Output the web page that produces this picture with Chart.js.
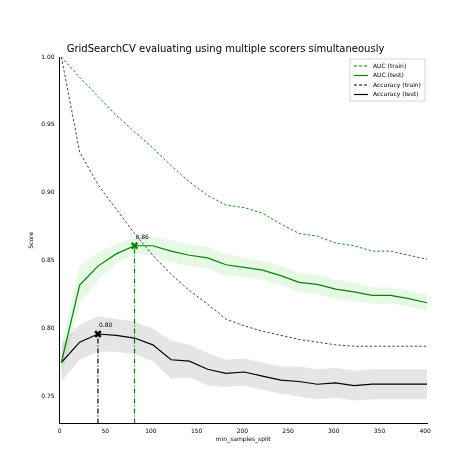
<!DOCTYPE html>
<html><head><meta charset="utf-8">
<script src="https://cdn.jsdelivr.net/npm/chart.js@4/dist/chart.umd.min.js"></script>
<style>html,body{margin:0;background:#fff}#c{display:block}</style></head>
<body><canvas id="c" width="474" height="474"></canvas>
<script>
const xVals=[2,22,42,62,82,102,122,142,162,182,202,222,242,262,282,302,322,342,362,382,402];
const aucTrain=[1.0,0.985,0.971,0.957,0.945,0.933,0.920,0.908,0.898,0.891,0.889,0.885,0.877,0.870,0.868,0.863,0.861,0.857,0.857,0.854,0.851];
const aucTest=[0.775,0.832,0.846,0.855,0.861,0.861,0.857,0.854,0.852,0.847,0.845,0.843,0.839,0.834,0.8325,0.829,0.827,0.8245,0.8245,0.822,0.819];
const aucTestStd=[0.012,0.014,0.010,0.007,0.006,0.007,0.008,0.008,0.008,0.008,0.007,0.007,0.007,0.007,0.007,0.007,0.007,0.006,0.006,0.006,0.006];
const accTrain=[1.0,0.930,0.906,0.888,0.870,0.854,0.840,0.828,0.818,0.807,0.802,0.798,0.795,0.792,0.790,0.788,0.787,0.787,0.787,0.787,0.787];
const accTest=[0.775,0.790,0.796,0.795,0.793,0.788,0.777,0.776,0.770,0.767,0.768,0.765,0.762,0.761,0.759,0.760,0.758,0.759,0.759,0.759,0.759];
const accTestStd=[0.014,0.013,0.013,0.012,0.012,0.012,0.014,0.012,0.012,0.010,0.010,0.010,0.010,0.011,0.011,0.011,0.011,0.011,0.011,0.011,0.011];
const yTicks=[0.75,0.80,0.85,0.90,0.95,1.00];
const bestAuc={x:82,y:0.861,label:'0.86'};
const bestAcc={x:42,y:0.796,label:'0.80'};
const legendItems=[['AUC (train)','green',[3,2]],['AUC (test)','green',[]],['Accuracy (train)','black',[3,2]],['Accuracy (test)','black',[]]];

const pts=(ys)=>xVals.map((x,i)=>({x,y:ys[i]}));
const band=(m,s,sign)=>xVals.map((x,i)=>({x,y:m[i]+sign*s[i]}));
const G='rgb(0,128,0)';
const ds=[
 {data:band(aucTest,aucTestStd,-1),borderWidth:0,pointRadius:0,fill:false},
 {data:band(aucTest,aucTestStd,1),borderWidth:0,pointRadius:0,fill:'-1',backgroundColor:'rgba(0,200,0,0.1)'},
 {data:band(accTest,accTestStd,-1),borderWidth:0,pointRadius:0,fill:false},
 {data:band(accTest,accTestStd,1),borderWidth:0,pointRadius:0,fill:'-1',backgroundColor:'rgba(0,0,0,0.1)'},
 {data:pts(aucTrain),borderColor:G,borderDash:[2.5,2],borderWidth:0.9,pointRadius:0},
 {data:pts(aucTest),borderColor:G,borderWidth:1.2,pointRadius:0},
 {data:pts(accTrain),borderColor:'#333',borderDash:[2.5,2],borderWidth:0.9,pointRadius:0},
 {data:pts(accTest),borderColor:'black',borderWidth:1.2,pointRadius:0},
 {data:[{x:bestAuc.x,y:0.73},{x:bestAuc.x,y:bestAuc.y}],borderColor:G,borderDash:[5,2,1,2],borderWidth:1.2,pointRadius:[0,4],pointStyle:'crossRot',pointBorderColor:G,pointBorderWidth:[0,2.5]},
 {data:[{x:bestAcc.x,y:0.73},{x:bestAcc.x,y:bestAcc.y}],borderColor:'black',borderDash:[5,2,1,2],borderWidth:1.2,pointRadius:[0,4],pointStyle:'crossRot',pointBorderColor:'black',pointBorderWidth:[0,2.5]}
];
const extras={id:'extras',afterDraw(c){
 const ctx=c.ctx,x=c.scales.x,y=c.scales.y,a=c.chartArea;
 ctx.save();ctx.font='6px "DejaVu Sans"';ctx.fillStyle='#000';ctx.textBaseline='alphabetic';
 for(const b of [bestAuc,bestAcc]){ctx.fillText(b.label,x.getPixelForValue(b.x)+1,y.getPixelForValue(b.y)-7);}
 const lw=75,lh=42,lx=a.right-lw-2,ly=a.top+2;
 ctx.fillStyle='rgba(255,255,255,0.8)';ctx.strokeStyle='#ccc';ctx.lineWidth=0.8;
 ctx.fillRect(lx,ly,lw,lh);ctx.strokeRect(lx,ly,lw,lh);
 legendItems.forEach((it,i)=>{const yy=ly+7+i*9.5;ctx.strokeStyle=it[1];ctx.lineWidth=1.2;ctx.setLineDash(it[2]);
  ctx.beginPath();ctx.moveTo(lx+4,yy);ctx.lineTo(lx+18,yy);ctx.stroke();ctx.setLineDash([]);
  ctx.fillStyle='#000';ctx.textBaseline='middle';ctx.fillText(it[0],lx+23,yy);});
 ctx.restore();}};
new Chart(document.getElementById('c'),{type:'line',data:{datasets:ds},plugins:[extras],
options:{responsive:false,animation:false,
 layout:{padding:{top:0,right:47,bottom:31,left:24}},
 plugins:{legend:{display:false},tooltip:{enabled:false},
  title:{display:true,text:'GridSearchCV evaluating using multiple scorers simultaneously',font:{family:'DejaVu Sans',size:10,weight:'normal'},color:'#000',padding:{top:43,bottom:2}}},
 scales:{
  x:{type:'linear',min:0,max:402,grid:{display:false,drawTicks:true,tickLength:3,color:'#000'},border:{color:'#000'},
   afterBuildTicks:s=>{s.ticks=[0,50,100,150,200,250,300,350,400].map(v=>({value:v}));},
   ticks:{font:{family:'DejaVu Sans',size:6},color:'#000',maxRotation:0,padding:1},
   title:{display:true,text:'min_samples_split',font:{family:'DejaVu Sans',size:6},color:'#000',padding:0}},
  y:{min:0.73,max:1.0,grid:{display:false,tickLength:3},border:{color:'#000'},
   afterBuildTicks:s=>{s.ticks=yTicks.map(v=>({value:v}));},
   ticks:{font:{family:'DejaVu Sans',size:6},color:'#000',padding:2,callback:v=>v.toFixed(2)},
   title:{display:true,text:'Score',font:{family:'DejaVu Sans',size:6},color:'#000',padding:4}}}}});
</script></body></html>
